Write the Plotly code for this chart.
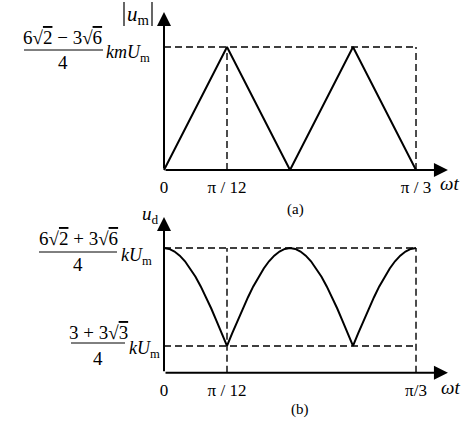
import plotly.graph_objects as go

W, H = 474, 442
FONT = "Liberation Serif, Times New Roman, DejaVu Serif, serif"

# (a) |u_m| against ωt (degrees), peak value in kmU_m
x_a = [0, 15, 30, 45, 60]
um_peak = 0.284          # (6√2 - 3√6)/4
y_a = [0, um_peak, 0, um_peak, 0]

# (b) u_d against ωt (degrees), in kU_m
ud_max = 3.96            # (6√2 + 3√6)/4
ud_min = 2.05            # (3 + 3√3)/4
ud_base = 1.53           # where the drawn time axis sits (axis is broken)
x_b = [0, 1.25, 2.5, 3.75, 5, 6.25, 7.5, 8.75, 10, 11.25, 12.5, 13.75, 15,
       16.25, 17.5, 18.75, 20, 21.25, 22.5, 23.75, 25, 26.25, 27.5, 28.75, 30,
       31.25, 32.5, 33.75, 35, 36.25, 37.5, 38.75, 40, 41.25, 42.5, 43.75, 45,
       46.25, 47.5, 48.75, 50, 51.25, 52.5, 53.75, 55, 56.25, 57.5, 58.75, 60]
y_b = [3.96, 3.94, 3.89, 3.81, 3.70, 3.56, 3.40, 3.21, 3.00, 2.78, 2.54, 2.30, 2.05,
       2.30, 2.54, 2.78, 3.00, 3.21, 3.40, 3.56, 3.70, 3.81, 3.89, 3.94, 3.96,
       3.94, 3.89, 3.81, 3.70, 3.56, 3.40, 3.21, 3.00, 2.78, 2.54, 2.30, 2.05,
       2.30, 2.54, 2.78, 3.00, 3.21, 3.40, 3.56, 3.70, 3.81, 3.89, 3.94, 3.96]

tick_vals = [0, 15, 60]
tick_a = ["0", "π / 12", "π / 3"]
tick_b = ["0", "π / 12", "π/3"]


def px(x):
    return x / W


def py(y):
    return 1 - y / H


fig = go.Figure()

solid = dict(color="black", width=2)
dashed = dict(color="black", width=1.4, dash="7px,4px")

# panel (a)
fig.add_trace(go.Scatter(x=[0, 60, None, 15, 15, None, 60, 60],
                         y=[um_peak, um_peak, None, 0, um_peak, None, 0, um_peak],
                         mode="lines", line=dashed, xaxis="x", yaxis="y"))
fig.add_trace(go.Scatter(x=x_a, y=y_a, mode="lines", line=solid, xaxis="x", yaxis="y"))

# panel (b)
fig.add_trace(go.Scatter(x=[0, 60, None, 0, 60, None, 15, 15, None, 60, 60],
                         y=[ud_max, ud_max, None, ud_min, ud_min, None,
                            ud_base, ud_max, None, ud_base, ud_max],
                         mode="lines", line=dashed, xaxis="x2", yaxis="y2"))
fig.add_trace(go.Scatter(x=x_b, y=y_b, mode="lines", line=solid, xaxis="x2", yaxis="y2"))

xa = dict(domain=[px(159), px(452)], range=[-1.19, 68.57], tickvals=tick_vals,
          showgrid=False, zeroline=False, showline=False, ticks="",
          tickfont=dict(family=FONT, size=17, color="black"))

fig.update_layout(
    width=W, height=H, margin=dict(l=0, r=0, t=0, b=0),
    paper_bgcolor="white", plot_bgcolor="white", showlegend=False,
    font=dict(family=FONT, color="black"),
    xaxis=dict(xa, anchor="y", ticktext=tick_a),
    yaxis=dict(domain=[py(175), py(10)], range=[-0.0115, 0.3695], visible=False),
    xaxis2=dict(xa, anchor="y2", ticktext=tick_b),
    yaxis2=dict(domain=[py(378), py(215)], range=[1.426, 4.6015], visible=False),
)


def arrow(x, y, ax, ay, xr, yr):
    return dict(x=x, y=y, ax=ax, ay=ay, xref=xr, yref=yr, axref=xr, ayref=yr,
                text="", showarrow=True, arrowhead=2, arrowsize=1.4,
                arrowwidth=2, arrowcolor="black")


def txt(x, y, s, size=16, anchor="center"):
    return dict(x=px(x), y=py(y), xref="paper", yref="paper", text=s,
                showarrow=False, xanchor=anchor, yanchor="middle",
                font=dict(family=FONT, size=size, color="black"))


ol = "<span style='text-decoration:overline'>%s</span>"
anns = [
    arrow(67.6, 0, 0, 0, "x", "y"),
    arrow(0, 0.3648, 0, 0, "x", "y"),
    arrow(67.6, ud_base, 0, ud_base, "x2", "y2"),
    arrow(0, 4.561, 0, ud_base, "x2", "y2"),
    # (a) labels
    txt(138, 15, "<i>u</i><sub>m</sub>", 21),
    txt(63, 37, "6√" + ol % "2" + " − 3√" + ol % "6", 19),
    txt(63, 63, "4", 19),
    txt(104, 53, "<i>kmU</i><sub>m</sub>", 18, "left"),
    txt(449, 183, "<i>ωt</i>", 19),
    txt(295, 209, "(a)", 15),
    # (b) labels
    txt(150, 215, "<i>u</i><sub>d</sub>", 19),
    txt(78, 239, "6√" + ol % "2" + " + 3√" + ol % "6", 19),
    txt(78, 264, "4", 19),
    txt(119, 256, "<i>kU</i><sub>m</sub>", 18, "left"),
    txt(98, 332, "3 + 3√" + ol % "3", 19),
    txt(98, 358, "4", 19),
    txt(127, 349, "<i>kU</i><sub>m</sub>", 18, "left"),
    txt(450, 387, "<i>ωt</i>", 19),
    txt(300, 409, "(b)", 15),
]
fig.update_layout(annotations=anns)

bars = [(24, 103, 50), (39, 117, 252), (71, 125, 343)]
shapes = [dict(type="line", xref="paper", yref="paper", x0=px(a), x1=px(b),
               y0=py(y), y1=py(y), line=dict(color="black", width=1))
          for a, b, y in bars]
# absolute value bars round u_m
for xb in (124, 152):
    shapes.append(dict(type="line", xref="paper", yref="paper", x0=px(xb), x1=px(xb),
                       y0=py(2), y1=py(26), line=dict(color="black", width=1.2)))
fig.update_layout(shapes=shapes)

fig.write_html("out.html", config={"displayModeBar": False},
               post_script="document.body.style.margin='0';")
